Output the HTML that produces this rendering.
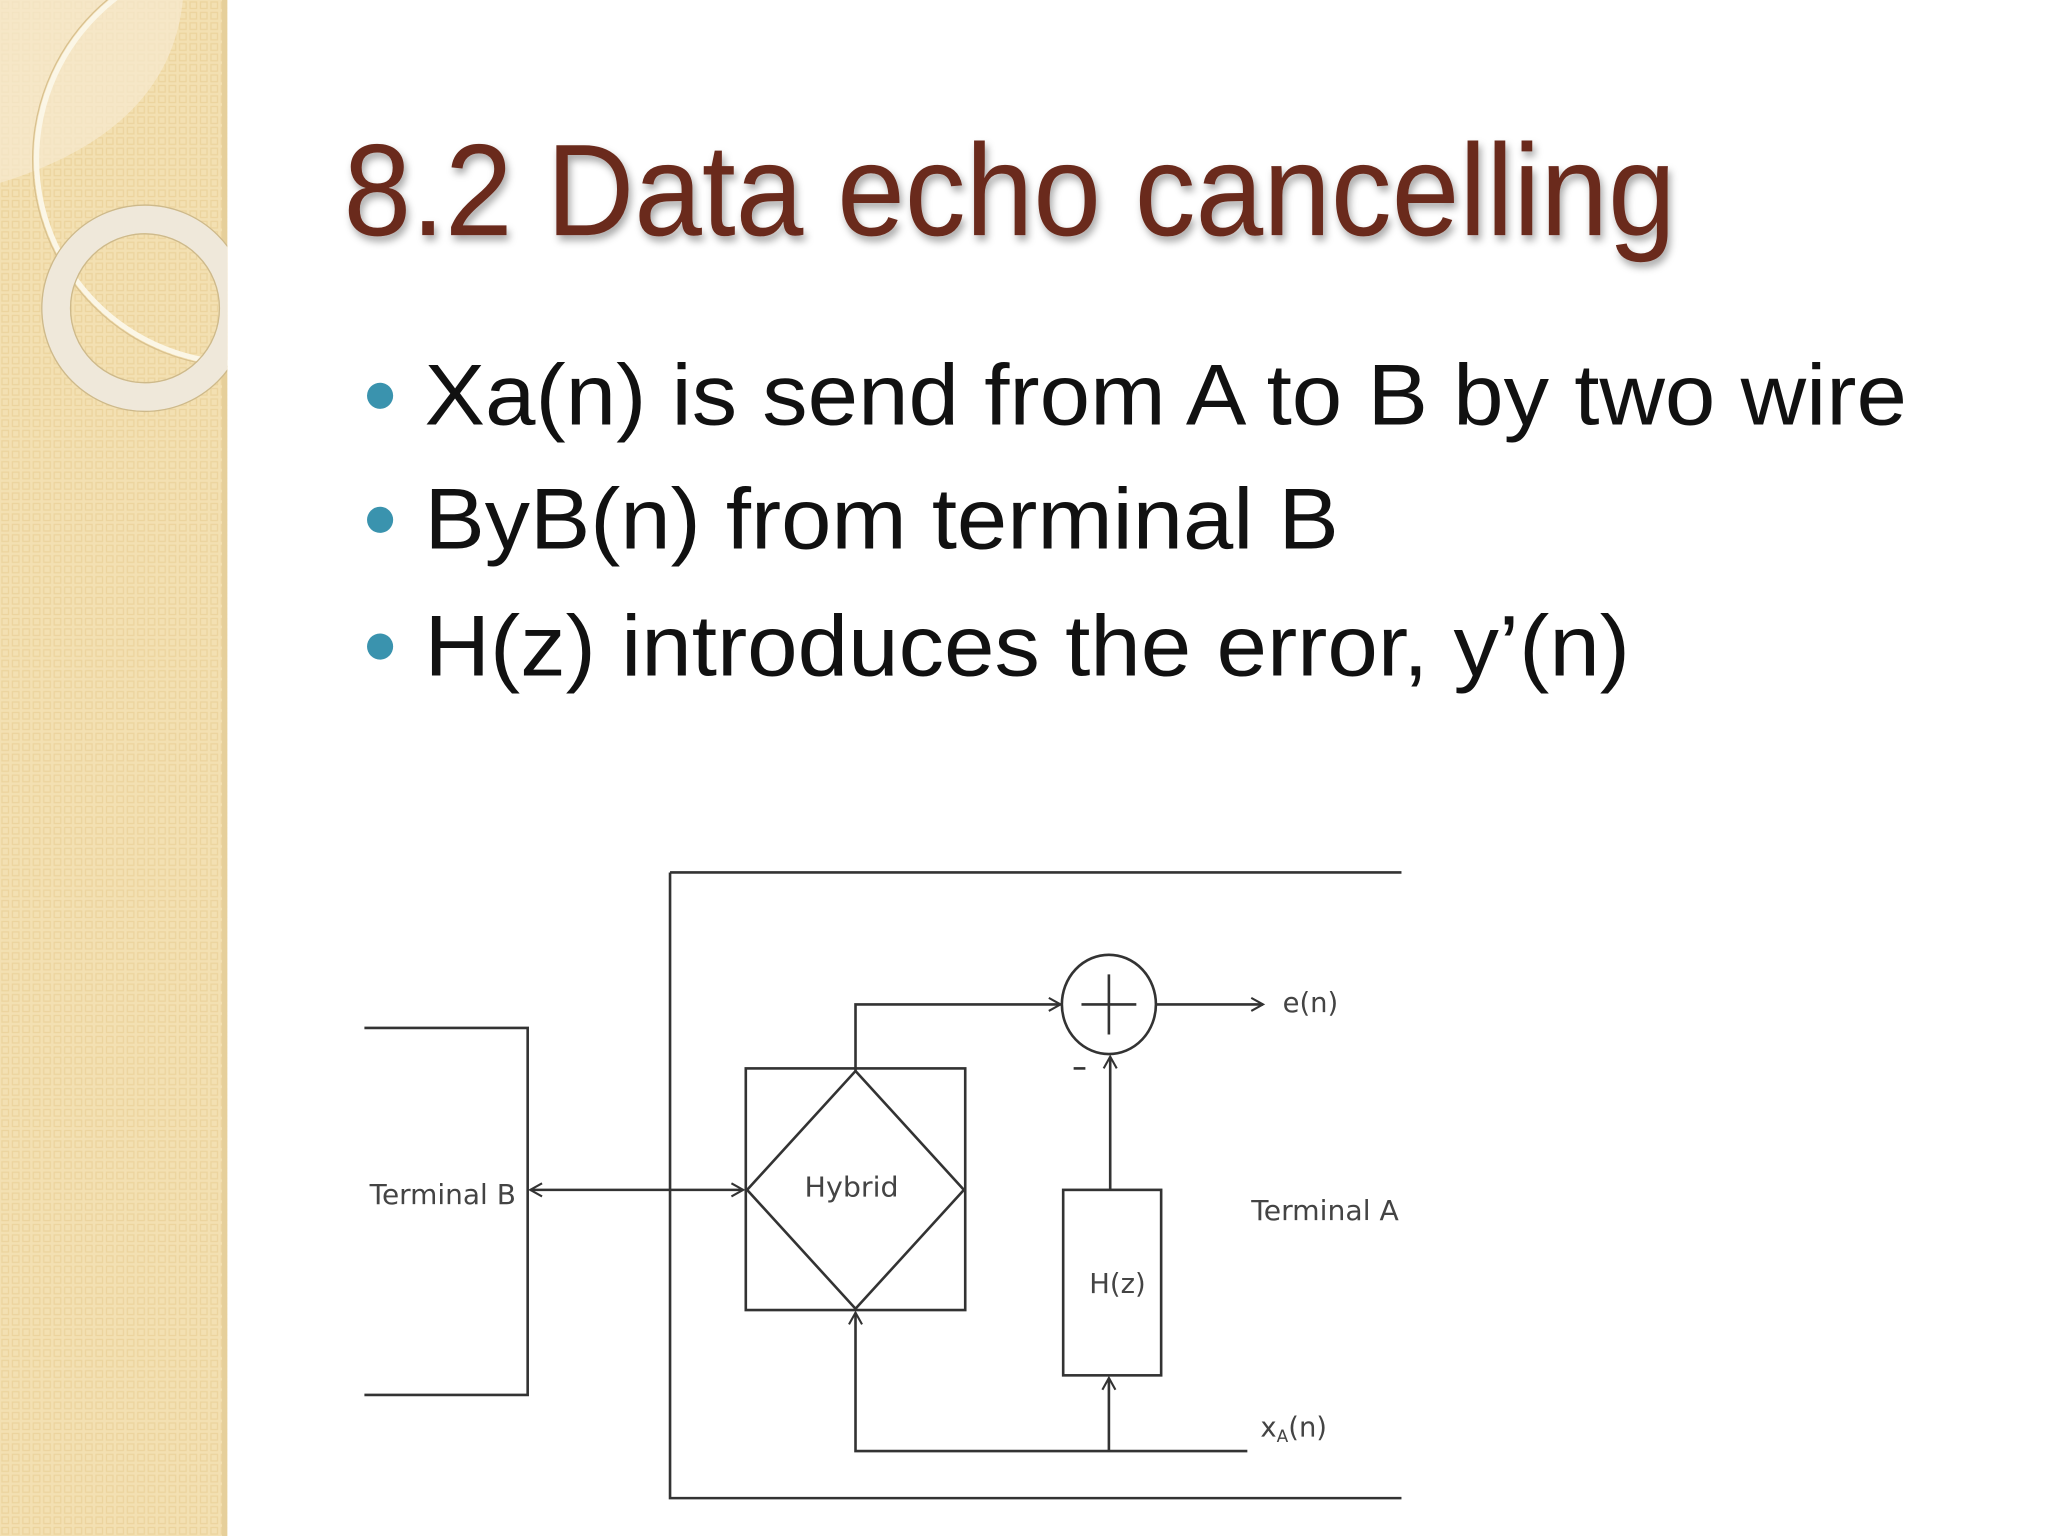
<!DOCTYPE html>
<html><head><meta charset="utf-8"><style>
html,body{margin:0;padding:0;background:#fff;}
svg{display:block;}
</style></head><body>
<svg width="2048" height="1536" viewBox="0 0 1568 1176" preserveAspectRatio="none" xmlns="http://www.w3.org/2000/svg">
<defs>
<pattern id="pt" width="8" height="8" patternUnits="userSpaceOnUse">
<rect width="8" height="8" fill="#f3e0b2"/>
<rect x="1.5" y="1.5" width="5" height="5" fill="none" stroke="#ecd49e" stroke-width="1"/>
</pattern>
<clipPath id="cs"><rect x="0" y="0" width="174" height="1176"/></clipPath>
<marker id="ah" markerWidth="12" markerHeight="12" refX="10" refY="6" orient="auto-start-reverse" markerUnits="userSpaceOnUse">
<path d="M1,1 L10,6 L1,11" fill="none" stroke="#333" stroke-width="1.6"/>
</marker>
<filter id="sh" x="-5%" y="-5%" width="110%" height="120%"><feDropShadow dx="2" dy="4" stdDeviation="3" flood-color="#000" flood-opacity="0.35"/></filter>
</defs>
<rect x="0" y="0" width="1568" height="1176" fill="#fff"/>
<rect x="0" y="0" width="174" height="1176" fill="url(#pt)"/>
<rect x="170" y="0" width="4" height="1176" fill="#e6cf9a"/>
<g clip-path="url(#cs)">
<path d="M0,0 L140,0 Q130,100 0,140 Z" fill="#f7ead0" opacity="0.7"/>
<circle cx="184" cy="122" r="156" fill="none" stroke="#fbf6e6" stroke-width="4"/>
<circle cx="184" cy="122" r="159" fill="none" stroke="#d9c18e" stroke-width="1"/>
<circle cx="111" cy="236" r="68" fill="none" stroke="#efe8da" stroke-width="21"/>
<circle cx="111" cy="236" r="79" fill="none" stroke="#cdb98b" stroke-width="1"/>
<circle cx="111" cy="236" r="57" fill="none" stroke="#cdb98b" stroke-width="1"/>
</g>
<text x="263" y="180" font-family="Liberation Sans, sans-serif" font-size="100" fill="#6a2a1c" textLength="1020" lengthAdjust="spacingAndGlyphs" filter="url(#sh)">8.2 Data echo cancelling</text>
<g font-family="Liberation Sans, sans-serif" font-size="66" fill="#111">
<circle cx="291" cy="303" r="10" fill="#3a93ae"/>
<text x="325" y="325" textLength="1135" lengthAdjust="spacingAndGlyphs">Xa(n) is send from A to B by two wire</text>
<circle cx="291" cy="398" r="10" fill="#3a93ae"/>
<text x="325" y="420" textLength="700" lengthAdjust="spacingAndGlyphs">ByB(n) from terminal B</text>
<circle cx="291" cy="495" r="10" fill="#3a93ae"/>
<text x="325" y="517" textLength="923" lengthAdjust="spacingAndGlyphs">H(z) introduces the error, y’(n)</text>
</g>
<g stroke="#333" stroke-width="2" fill="none">
<path d="M513,668 H1073 M513,668 V1147 H1073"/>
<path d="M279,787 H404 V1068 H279"/>
<line x1="406" y1="911" x2="569" y2="911" marker-start="url(#ah)" marker-end="url(#ah)"/>
<rect x="571" y="818" width="168" height="185"/>
<path d="M655,820 L738,911 L655,1002 L572,911 Z"/>
<path d="M655,820 V769 H812" marker-end="url(#ah)"/>
<ellipse cx="849" cy="769" rx="36" ry="38"/>
<path d="M828,769 H870 M849,746 V792"/>
<line x1="885" y1="769" x2="967" y2="769" marker-end="url(#ah)"/>
<line x1="822" y1="818" x2="831" y2="818"/>
<rect x="814" y="911" width="75" height="142"/>
<line x1="850" y1="911" x2="850" y2="809" marker-end="url(#ah)"/>
<path d="M955,1111 H655 V1005" marker-end="url(#ah)"/>
<line x1="849" y1="1111" x2="849" y2="1055" marker-end="url(#ah)"/>
</g>
<g font-family="DejaVu Sans, Liberation Sans, sans-serif" font-size="21" fill="#444">
<text x="283" y="922" textLength="112" lengthAdjust="spacingAndGlyphs">Terminal B</text>
<text x="616" y="916" textLength="72" lengthAdjust="spacingAndGlyphs">Hybrid</text>
<text x="982" y="775">e(n)</text>
<text x="958" y="934" textLength="113" lengthAdjust="spacingAndGlyphs">Terminal A</text>
<text x="834" y="990">H(z)</text>
<text x="965" y="1100">x<tspan font-size="13" dy="4">A</tspan><tspan dy="-4">(n)</tspan></text>
</g>
</svg>
</body></html>
